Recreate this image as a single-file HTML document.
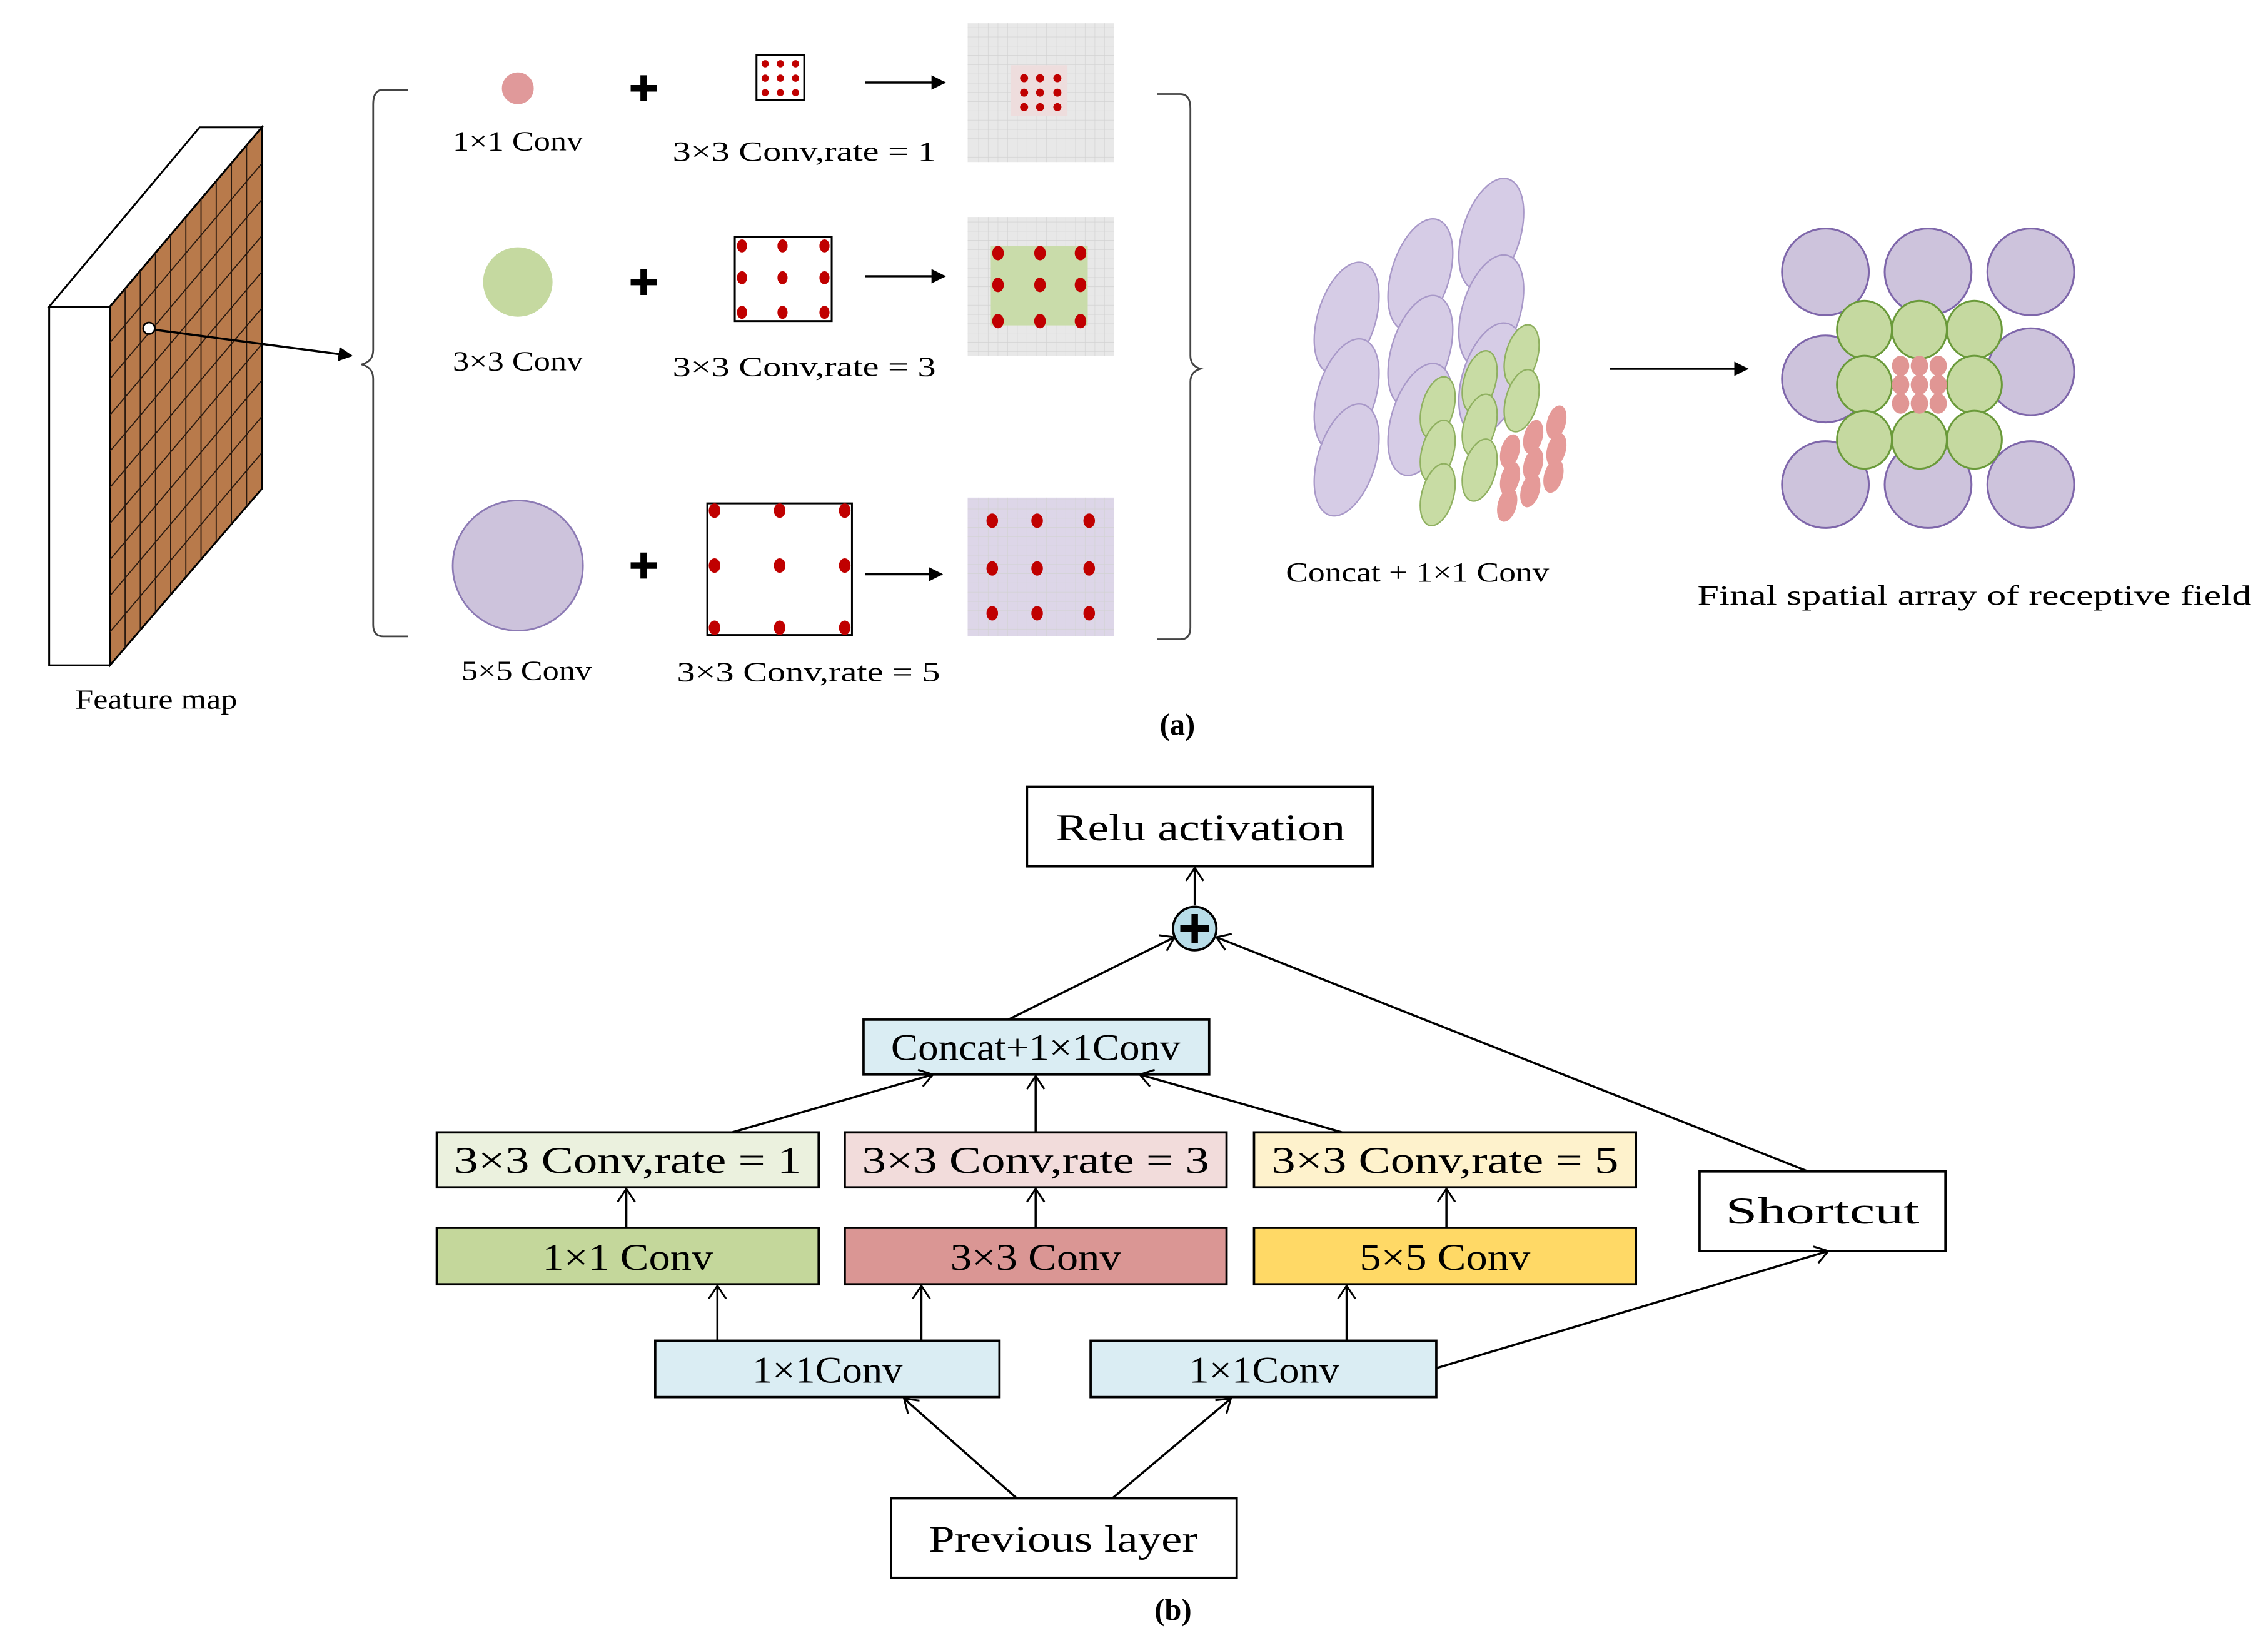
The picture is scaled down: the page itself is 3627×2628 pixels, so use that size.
<!DOCTYPE html>
<html><head><meta charset="utf-8"><style>html,body{margin:0;padding:0;background:#fff}svg{display:block}</style></head>
<body>
<svg width="3627" height="2628" viewBox="0 0 1568 1136" xmlns="http://www.w3.org/2000/svg" font-family="'Liberation Serif','Noto Serif CJK SC',serif">
<defs>
<marker id="ah" markerWidth="10" markerHeight="10" refX="9" refY="5" orient="auto" markerUnits="userSpaceOnUse"><path d="M0,0 L10,5 L0,10 Z" fill="#000"/></marker>
<marker id="oa" markerWidth="14" markerHeight="14" refX="12" refY="7" orient="auto" markerUnits="userSpaceOnUse"><path d="M3,1 L12,7 L3,13" fill="none" stroke="#000" stroke-width="1.3"/></marker>
<pattern id="g" width="6.7" height="6.4" patternUnits="userSpaceOnUse"><path d="M6.7,0 V6.4 M0,6.4 H6.7" stroke="#d2d2d2" stroke-width="0.6" fill="none"/></pattern>
<clipPath id="bf"><polygon points="76,212 181,88 181,338 76,460"/></clipPath>
</defs>

<!-- Feature map -->
<polygon points="34,212 138,88 181,88 76,212" fill="#fff" stroke="#000" stroke-width="1.3"/>
<rect x="34" y="212" width="42" height="248" fill="#fff" stroke="#000" stroke-width="1.3"/>
<polygon points="76,212 181,88 181,338 76,460" fill="#b87a4b" stroke="#000" stroke-width="1.3"/>
<g clip-path="url(#bf)" stroke="#2a1a10" stroke-width="0.8">
<path d="M86.5,0 V470 M97,0 V470 M107.5,0 V470 M118,0 V470 M128.5,0 V470 M139,0 V470 M149.5,0 V470 M160,0 V470 M170.5,0 V470"/>
<path d="M76,237 L181,113 M76,262 L181,138 M76,287 L181,163 M76,312 L181,188 M76,337 L181,213 M76,362 L181,238 M76,387 L181,263 M76,412 L181,288 M76,437 L181,313"/>
</g>
<circle cx="103" cy="227" r="4" fill="#fff" stroke="#000" stroke-width="1.2"/>
<line x1="107" y1="228" x2="243" y2="246" stroke="#000" stroke-width="1.5" marker-end="url(#ah)"/>

<g font-size="19" text-anchor="middle" lengthAdjust="spacingAndGlyphs">
<text x="108" y="490" textLength="112" lengthAdjust="spacingAndGlyphs">Feature map</text>
<text x="358" y="104" textLength="90" lengthAdjust="spacingAndGlyphs">1×1 Conv</text>
<text x="556" y="111" textLength="182" lengthAdjust="spacingAndGlyphs">3×3 Conv,rate = 1</text>
<text x="358" y="256" textLength="90" lengthAdjust="spacingAndGlyphs">3×3 Conv</text>
<text x="556" y="260" textLength="182" lengthAdjust="spacingAndGlyphs">3×3 Conv,rate = 3</text>
<text x="364" y="470" textLength="90" lengthAdjust="spacingAndGlyphs">5×5 Conv</text>
<text x="559" y="471" textLength="182" lengthAdjust="spacingAndGlyphs">3×3 Conv,rate = 5</text>
<text x="980" y="402" textLength="182" lengthAdjust="spacingAndGlyphs">Concat + 1×1 Conv</text>
<text x="1365" y="418" textLength="383" lengthAdjust="spacingAndGlyphs">Final spatial array of receptive field</text>
</g>

<!-- braces -->
<path d="M282,62 H265 Q258,62 258,72 V242 Q258,250 250,252 Q258,254 258,262 V432 Q258,440 265,440 H282" fill="none" stroke="#444" stroke-width="1.2"/>
<path d="M800,65 H816 Q823,65 823,75 V246 Q823,253 830,255 Q823,257 823,264 V434 Q823,442 816,442 H800" fill="none" stroke="#444" stroke-width="1.2"/>

<!-- plus signs -->
<g stroke="#000" stroke-width="4.5">
<path d="M445,52 V70 M436,61 H454"/>
<path d="M445,186 V204 M436,195 H454"/>
<path d="M445,382 V400 M436,391 H454"/>
</g>

<!-- row1 -->
<circle cx="358" cy="61" r="11" fill="#e0999a"/>
<rect x="523" y="38" width="33" height="31" fill="#fff" stroke="#000" stroke-width="1.3"/>
<g fill="#c00000"><circle cx="529" cy="44" r="2.5"/><circle cx="539.5" cy="44" r="2.5"/><circle cx="550" cy="44" r="2.5"/><circle cx="529" cy="54" r="2.5"/><circle cx="539.5" cy="54" r="2.5"/><circle cx="550" cy="54" r="2.5"/><circle cx="529" cy="64" r="2.5"/><circle cx="539.5" cy="64" r="2.5"/><circle cx="550" cy="64" r="2.5"/></g>
<line x1="598" y1="57" x2="653" y2="57" stroke="#000" stroke-width="1.5" marker-end="url(#ah)"/>
<rect x="669" y="16" width="101" height="96" fill="#e8e8e8"/><rect x="669" y="16" width="101" height="96" fill="url(#g)"/>
<rect x="699" y="45" width="39" height="35" fill="#eedddd"/>
<g fill="#c00000"><circle cx="708" cy="54" r="2.8"/><circle cx="719" cy="54" r="2.8"/><circle cx="731" cy="54" r="2.8"/><circle cx="708" cy="64" r="2.8"/><circle cx="719" cy="64" r="2.8"/><circle cx="731" cy="64" r="2.8"/><circle cx="708" cy="74" r="2.8"/><circle cx="719" cy="74" r="2.8"/><circle cx="731" cy="74" r="2.8"/></g>

<!-- row2 -->
<ellipse cx="358" cy="195" rx="24" ry="24" fill="#c5d9a0"/>
<rect x="508" y="164" width="67" height="58" fill="#fff" stroke="#000" stroke-width="1.3"/>
<g fill="#c00000"><ellipse cx="513" cy="170" rx="3.5" ry="4.5"/><ellipse cx="541" cy="170" rx="3.5" ry="4.5"/><ellipse cx="570" cy="170" rx="3.5" ry="4.5"/><ellipse cx="513" cy="192" rx="3.5" ry="4.5"/><ellipse cx="541" cy="192" rx="3.5" ry="4.5"/><ellipse cx="570" cy="192" rx="3.5" ry="4.5"/><ellipse cx="513" cy="216" rx="3.5" ry="4.5"/><ellipse cx="541" cy="216" rx="3.5" ry="4.5"/><ellipse cx="570" cy="216" rx="3.5" ry="4.5"/></g>
<line x1="598" y1="191" x2="653" y2="191" stroke="#000" stroke-width="1.5" marker-end="url(#ah)"/>
<rect x="669" y="150" width="101" height="96" fill="#e8e8e8"/><rect x="669" y="150" width="101" height="96" fill="url(#g)"/>
<rect x="685" y="170" width="67" height="55" fill="#c9dcaa"/>
<g fill="#c00000"><ellipse cx="690" cy="175" rx="4" ry="5"/><ellipse cx="719" cy="175" rx="4" ry="5"/><ellipse cx="747" cy="175" rx="4" ry="5"/><ellipse cx="690" cy="197" rx="4" ry="5"/><ellipse cx="719" cy="197" rx="4" ry="5"/><ellipse cx="747" cy="197" rx="4" ry="5"/><ellipse cx="690" cy="222" rx="4" ry="5"/><ellipse cx="719" cy="222" rx="4" ry="5"/><ellipse cx="747" cy="222" rx="4" ry="5"/></g>

<!-- row3 -->
<ellipse cx="358" cy="391" rx="45" ry="45" fill="#cdc3dc" stroke="#8c7ab4" stroke-width="1.2"/>
<rect x="489" y="348" width="100" height="91" fill="#fff" stroke="#000" stroke-width="1.3"/>
<g fill="#c00000"><ellipse cx="494" cy="353" rx="4" ry="5"/><ellipse cx="539" cy="353" rx="4" ry="5"/><ellipse cx="584" cy="353" rx="4" ry="5"/><ellipse cx="494" cy="391" rx="4" ry="5"/><ellipse cx="539" cy="391" rx="4" ry="5"/><ellipse cx="584" cy="391" rx="4" ry="5"/><ellipse cx="494" cy="434" rx="4" ry="5"/><ellipse cx="539" cy="434" rx="4" ry="5"/><ellipse cx="584" cy="434" rx="4" ry="5"/></g>
<line x1="598" y1="397" x2="651" y2="397" stroke="#000" stroke-width="1.5" marker-end="url(#ah)"/>
<rect x="669" y="344" width="101" height="96" fill="#ddd6e8"/><rect x="669" y="344" width="101" height="96" fill="url(#g)"/>
<g fill="#c00000"><ellipse cx="686" cy="360" rx="4" ry="5"/><ellipse cx="717" cy="360" rx="4" ry="5"/><ellipse cx="753" cy="360" rx="4" ry="5"/><ellipse cx="686" cy="393" rx="4" ry="5"/><ellipse cx="717" cy="393" rx="4" ry="5"/><ellipse cx="753" cy="393" rx="4" ry="5"/><ellipse cx="686" cy="424" rx="4" ry="5"/><ellipse cx="717" cy="424" rx="4" ry="5"/><ellipse cx="753" cy="424" rx="4" ry="5"/></g>

<!-- concat ellipses -->
<g fill="#d6cce6" stroke="#a898c8" stroke-width="1">
<ellipse cx="931" cy="220" rx="20" ry="40" transform="rotate(17 931 220)"/>
<ellipse cx="982" cy="190" rx="20" ry="40" transform="rotate(17 982 190)"/>
<ellipse cx="1031" cy="162" rx="20" ry="40" transform="rotate(17 1031 162)"/>
<ellipse cx="931" cy="273" rx="20" ry="40" transform="rotate(17 931 273)"/>
<ellipse cx="982" cy="243" rx="20" ry="40" transform="rotate(17 982 243)"/>
<ellipse cx="1031" cy="215" rx="20" ry="40" transform="rotate(17 1031 215)"/>
<ellipse cx="931" cy="318" rx="20" ry="40" transform="rotate(17 931 318)"/>
<ellipse cx="982" cy="290" rx="20" ry="40" transform="rotate(17 982 290)"/>
<ellipse cx="1031" cy="262" rx="20" ry="40" transform="rotate(17 1031 262)"/>
</g>
<g fill="#c8dca4" stroke="#8fb060" stroke-width="1">
<ellipse cx="994" cy="282" rx="11" ry="22" transform="rotate(15 994 282)"/>
<ellipse cx="1023" cy="264" rx="11" ry="22" transform="rotate(15 1023 264)"/>
<ellipse cx="1052" cy="246" rx="11" ry="22" transform="rotate(15 1052 246)"/>
<ellipse cx="994" cy="312" rx="11" ry="22" transform="rotate(15 994 312)"/>
<ellipse cx="1023" cy="294" rx="11" ry="22" transform="rotate(15 1023 294)"/>
<ellipse cx="1052" cy="277" rx="11" ry="22" transform="rotate(15 1052 277)"/>
<ellipse cx="994" cy="342" rx="11" ry="22" transform="rotate(15 994 342)"/>
<ellipse cx="1023" cy="325" rx="11" ry="22" transform="rotate(15 1023 325)"/>
</g>
<g fill="#e59a98">
<ellipse cx="1044" cy="312" rx="6.5" ry="12" transform="rotate(15 1044 312)"/>
<ellipse cx="1060" cy="302" rx="6.5" ry="12" transform="rotate(15 1060 302)"/>
<ellipse cx="1076" cy="292" rx="6.5" ry="12" transform="rotate(15 1076 292)"/>
<ellipse cx="1044" cy="331" rx="6.5" ry="12" transform="rotate(15 1044 331)"/>
<ellipse cx="1060" cy="321" rx="6.5" ry="12" transform="rotate(15 1060 321)"/>
<ellipse cx="1076" cy="311" rx="6.5" ry="12" transform="rotate(15 1076 311)"/>
<ellipse cx="1042" cy="349" rx="6.5" ry="12" transform="rotate(15 1042 349)"/>
<ellipse cx="1058" cy="339" rx="6.5" ry="12" transform="rotate(15 1058 339)"/>
<ellipse cx="1074" cy="329" rx="6.5" ry="12" transform="rotate(15 1074 329)"/>
</g>

<line x1="1113" y1="255" x2="1208" y2="255" stroke="#000" stroke-width="1.5" marker-end="url(#ah)"/>

<!-- final array -->
<g fill="#cdc3dc" stroke="#7e66aa" stroke-width="1.3">
<ellipse cx="1262" cy="188" rx="30" ry="30"/><ellipse cx="1333" cy="188" rx="30" ry="30"/><ellipse cx="1404" cy="188" rx="30" ry="30"/>
<ellipse cx="1262" cy="262" rx="30" ry="30"/><ellipse cx="1404" cy="257" rx="30" ry="30"/>
<ellipse cx="1262" cy="335" rx="30" ry="30"/><ellipse cx="1333" cy="335" rx="30" ry="30"/><ellipse cx="1404" cy="335" rx="30" ry="30"/>
</g>
<g fill="#c5d9a0" stroke="#6a9a3a" stroke-width="1.3">
<ellipse cx="1289" cy="228" rx="19" ry="20"/><ellipse cx="1327" cy="228" rx="19" ry="20"/><ellipse cx="1365" cy="228" rx="19" ry="20"/>
<ellipse cx="1289" cy="266" rx="19" ry="20"/><ellipse cx="1365" cy="266" rx="19" ry="20"/>
<ellipse cx="1289" cy="304" rx="19" ry="20"/><ellipse cx="1327" cy="304" rx="19" ry="20"/><ellipse cx="1365" cy="304" rx="19" ry="20"/>
</g>
<g fill="#e09694">
<ellipse cx="1314" cy="253" rx="6" ry="7"/><ellipse cx="1327" cy="253" rx="6" ry="7"/><ellipse cx="1340" cy="253" rx="6" ry="7"/>
<ellipse cx="1314" cy="266" rx="6" ry="7"/><ellipse cx="1327" cy="266" rx="6" ry="7"/><ellipse cx="1340" cy="266" rx="6" ry="7"/>
<ellipse cx="1314" cy="279" rx="6" ry="7"/><ellipse cx="1327" cy="279" rx="6" ry="7"/><ellipse cx="1340" cy="279" rx="6" ry="7"/>
</g>

<text x="814" y="508" font-size="21" font-weight="bold" text-anchor="middle">(a)</text>

<!-- part b -->
<g stroke="#000" stroke-width="1.6">
<rect x="710" y="544" width="239" height="55" fill="#fff"/>
<rect x="597" y="705" width="239" height="38" fill="#daedf3"/>
<rect x="302" y="783" width="264" height="38" fill="#ebf1de"/>
<rect x="584" y="783" width="264" height="38" fill="#f2dcdb"/>
<rect x="867" y="783" width="264" height="38" fill="#fef2cc"/>
<rect x="302" y="849" width="264" height="39" fill="#c4d79b"/>
<rect x="584" y="849" width="264" height="39" fill="#da9694"/>
<rect x="867" y="849" width="264" height="39" fill="#ffd966"/>
<rect x="453" y="927" width="238" height="39" fill="#daedf3"/>
<rect x="754" y="927" width="239" height="39" fill="#daedf3"/>
<rect x="1175" y="810" width="170" height="55" fill="#fff"/>
<rect x="616" y="1036" width="239" height="55" fill="#fff"/>
</g>
<g stroke="#000" stroke-width="1.5" fill="none" marker-end="url(#oa)">
<line x1="826" y1="626" x2="826" y2="600"/>
<line x1="697" y1="705" x2="812" y2="648"/>
<line x1="1250" y1="810" x2="841" y2="648"/>
<line x1="506" y1="783" x2="645" y2="743"/>
<line x1="716" y1="783" x2="716" y2="744"/>
<line x1="928" y1="783" x2="788" y2="743"/>
<line x1="433" y1="849" x2="433" y2="822"/>
<line x1="716" y1="849" x2="716" y2="822"/>
<line x1="1000" y1="849" x2="1000" y2="822"/>
<line x1="496" y1="927" x2="496" y2="889"/>
<line x1="637" y1="927" x2="637" y2="889"/>
<line x1="931" y1="927" x2="931" y2="889"/>
<line x1="993" y1="946" x2="1264" y2="865"/>
<line x1="703" y1="1036" x2="625" y2="967"/>
<line x1="769" y1="1036" x2="851" y2="967"/>
</g>
<ellipse cx="826" cy="642" rx="15" ry="15" fill="#b8dde8" stroke="#000" stroke-width="1.6"/>
<path d="M826,632 V652 M816,642 H836" stroke="#000" stroke-width="4.5"/>

<g font-size="26" text-anchor="middle">
<text x="830" y="581" textLength="200" lengthAdjust="spacingAndGlyphs">Relu activation</text>
<text x="716" y="733" textLength="200" lengthAdjust="spacingAndGlyphs">Concat+1×1Conv</text>
<text x="434" y="811" textLength="240" lengthAdjust="spacingAndGlyphs">3×3 Conv,rate = 1</text>
<text x="716" y="811" textLength="240" lengthAdjust="spacingAndGlyphs">3×3 Conv,rate = 3</text>
<text x="999" y="811" textLength="240" lengthAdjust="spacingAndGlyphs">3×3 Conv,rate = 5</text>
<text x="434" y="878" textLength="118" lengthAdjust="spacingAndGlyphs">1×1 Conv</text>
<text x="716" y="878" textLength="118" lengthAdjust="spacingAndGlyphs">3×3 Conv</text>
<text x="999" y="878" textLength="118" lengthAdjust="spacingAndGlyphs">5×5 Conv</text>
<text x="572" y="956" textLength="104" lengthAdjust="spacingAndGlyphs">1×1Conv</text>
<text x="874" y="956" textLength="104" lengthAdjust="spacingAndGlyphs">1×1Conv</text>
<text x="1260" y="846" textLength="134" lengthAdjust="spacingAndGlyphs">Shortcut</text>
<text x="735" y="1073" textLength="186" lengthAdjust="spacingAndGlyphs">Previous layer</text>
</g>
<text x="811" y="1120" font-size="21" font-weight="bold" text-anchor="middle">(b)</text>
</svg>
</body></html>
